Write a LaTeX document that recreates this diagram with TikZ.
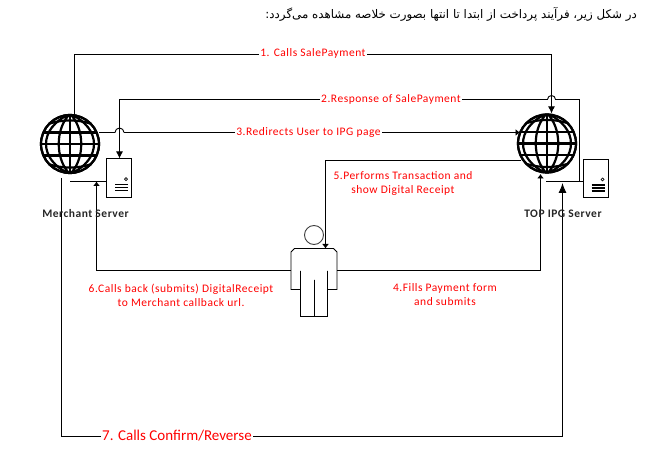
\documentclass[tikz,border=0pt]{standalone}
\usepackage{fontspec}
\setmainfont{Carlito}
\newfontfamily\stepfont[LetterSpace=4.5]{Carlito}
\newfontfamily\arabicfont[Script=Arabic]{DejaVu Sans}
\TeXXeTstate=1
\usetikzlibrary{arrows.meta}
\definecolor{labelred}{RGB}{255,0,0}
\begin{document}
\begin{tikzpicture}[
x=1pt, y=-1pt,
globe/.style={circle, draw=black, line width=2.2pt, minimum size=58pt, inner sep=0pt},
server/.style={rectangle, draw=black, line width=0.9pt, minimum width=25pt, minimum height=38.5pt, inner sep=0pt},
step label/.style={text=labelred, font=\stepfont\fontsize{11.5}{14}\selectfont, align=center, inner sep=1pt},
on line/.style={step label, fill=white},
caption/.style={font=\bfseries\stepfont\fontsize{11.5}{14}\selectfont, text=black!85, inner sep=0pt},
wire/.style={draw=black, line width=0.9pt},
tip/.style={wire, -{Latex[length=7pt,width=7pt]}},
short tip/.style={wire, -{Latex[length=4.5pt,width=7pt]}},
long tip/.style={wire, -{Latex[length=10pt,width=8pt]}},
globe lines/.pic={
  \begin{scope}
  \clip (0,0) circle (29.5);
  \draw[line width=2.4pt] (0,-30) -- (0,30);
  \draw[line width=2.2pt] (0,-30) .. controls (-15,-16) and (-15,16) .. (0,30)
                          (0,-30) .. controls (15,-16) and (15,16) .. (0,30)
                          (0,-30) .. controls (-32,-16) and (-32,16) .. (0,30)
                          (0,-30) .. controls (32,-16) and (32,16) .. (0,30);
  \foreach \dy in {0,-11.5,11.5} \draw[line width=2.2pt] (-30,\dy) -- (30,\dy);
  \draw[line width=2.2pt] (-24,-19) .. controls (-10,-25) and (10,-25) .. (24,-19)
                          (-24,19) .. controls (-10,25) and (10,25) .. (24,19);
  \end{scope}
  \draw[line width=2.2pt] (0,0) circle (29);
},
server marks/.pic={
  \draw[line width=0.7pt] (7,1) circle (1.5);
  \foreach \dy in {6.5,9.5,12.5} \draw[line width=1.5pt] (-4,\dy) -- (9,\dy);
}
]
  \useasboundingbox (0,0) rectangle (667,462);

  % servers and globes
  \node[globe] (webA) at (70,144) {};
  \node[globe] (webB) at (547,143.5) {};
  \node[server] (srvA) at (119,178.2) {};
  \node[server] (srvB) at (595.5,178.5) {};
  \pic at (srvA) {server marks};
  \pic at (srvB) {server marks};

  % user
  \node[circle, draw=black!75, line width=0.9pt, minimum size=19pt, inner sep=0pt] (head) at (314,235) {};
  \coordinate (shoulder) at (325.5,248.5);
  \coordinate (armL) at (291,270.5);
  \coordinate (armR) at (337,270.5);
  \draw[wire] (294.5,248.5) -- (333.5,248.5) -- (337,252) -- (337,289.5) -- (327.5,289.5)
              (327.5,271) -- (327.5,316.5) -- (300.5,316.5) -- (300.5,271)
              (300.5,289.5) -- (291,289.5) -- (291,252) -- (294.5,248.5)
              (314.5,280) -- (314.5,316.5);

  % free ends
  \coordinate (a1) at (74.5,115);
  \coordinate (a2) at (74.5,54.5);
  \coordinate (a3) at (551.5,54.5);
  \coordinate (b0) at (546,181.5);
  \coordinate (b1) at (583,181.5);
  \coordinate (b2) at (579.5,181.5);
  \coordinate (b3) at (579.5,99.5);
  \coordinate (b4) at (555.5,99.5);
  \coordinate (b5) at (547.5,99.5);
  \coordinate (b6) at (119.5,99.5);
  \coordinate (c1) at (99,132.5);
  \coordinate (c2) at (115,132.5);
  \coordinate (c3) at (124,132.5);
  \coordinate (c4) at (520,132.5);
  \coordinate (d1) at (540.5,270.5);
  \coordinate (d2) at (540.5,174);
  \coordinate (e1) at (521,160.5);
  \coordinate (e2) at (325.5,160.5);
  \coordinate (f1) at (96.5,270.5);
  \coordinate (f2) at (96.5,181.5);
  \coordinate (g0) at (70,181.5);
  \coordinate (h1) at (61.5,178);
  \coordinate (h2) at (61.5,436.5);
  \coordinate (h3) at (562.5,436.5);
  \coordinate (h4) at (562.5,183);

  % connectors
  \draw[tip] (a1) -- (a2) -- (a3) -- (webB.north -| a3);
  \draw[wire] (b0) -- (b1)
              (b2) -- (b3) -- (b4) arc[start angle=0, end angle=-180, radius=4];
  \draw[tip] (b5) -- (b6) -- (srvA.north -| b6);
  \draw[wire] (c1) -- (c2) arc[start angle=180, end angle=360, radius=4.5];
  \draw[short tip] (c3) -- (c4);
  \draw[short tip] (armR) -- (d1) -- (d2);
  \draw[short tip] (e1) -- (e2) -- (shoulder);
  \draw[short tip] (armL) -- (f1) -- (f2);
  \draw[wire] (g0) -- (srvA.west |- g0);
  \draw[long tip] (h1) -- (h2) -- (h3) -- (h4);
  \pic at (webA) {globe lines};
  \pic at (webB) {globe lines};

  % labels
  \node[on line] (l1) at (313,53) {1. Calls SalePayment};
  \node[on line] (l2) at (391,99) {2.Response of SalePayment};
  \node[on line] (l3) at (308.5,132) {3.Redirects User to IPG page};
  \node[step label] (l4) at (445,295) {4.Fills Payment form\\and submits};
  \node[step label] (l5) at (403,183) {5.Performs Transaction and\\show Digital Receipt};
  \node[step label] (l6) at (181,295) {6.Calls back (submits) DigitalReceipt\\to Merchant callback url.};
  \node[on line, font=\rmfamily\fontsize{15}{17}\selectfont] (l7) at (177,436) {7. Calls Confirm/Reverse};
  \node[caption] (capA) at (85.5,214) {Merchant Server};
  \node[caption] (capB) at (563,214) {TOP IPG Server};
  \node[anchor=east, inner sep=0pt, font=\fontsize{11.85}{14}\selectfont] (title) at (637,14)
    {\arabicfont\beginR در شکل زیر، فرآیند پرداخت از ابتدا تا انتها بصورت خلاصه مشاهده می‌گردد:\endR};
\end{tikzpicture}
\end{document}
